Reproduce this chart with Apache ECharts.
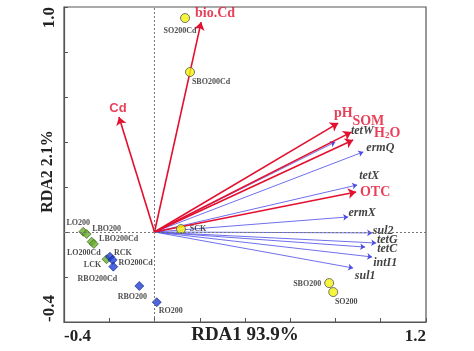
<!DOCTYPE html>
<html>
<head>
<meta charset="utf-8">
<script src="https://cdn.jsdelivr.net/npm/echarts@6/dist/echarts.min.js"></script>
<style>
  html, body { margin: 0; padding: 0; background: #fff; }
  #chart { width: 474px; height: 351px; }
</style>
</head>
<body>
<div id="chart"></div>
<script>
// axes
var xMin = -0.4, xMax = 1.2, yMin = -0.4, yMax = 1.0, tickStep = 0.2;

// environmental factors (red arrows)
var envNames = ['bio.Cd', 'Cd', 'pH', 'SOM', 'H2O', 'OTC'];
var envX = [0.206, -0.157, 0.812, 0.870, 0.878, 0.891];
var envY = [0.933, 0.511, 0.484, 0.444, 0.409, 0.178];

// genes (blue arrows)
var geneNames = ['tetW', 'ermQ', 'tetX', 'ermX', 'sul2', 'tetG', 'tetC', 'intI1', 'sul1'];
var geneX = [0.799, 0.923, 0.896, 0.856, 0.962, 0.980, 0.931, 0.962, 0.878];
var geneY = [0.400, 0.356, 0.209, 0.067, -0.004, -0.049, -0.067, -0.111, -0.160];

// samples
var sNames = ['SO200Cd', 'SBO200Cd', 'SCK', 'SBO200', 'SO200'];
var sX = [0.135, 0.157, 0.117, 0.772, 0.790];
var sY = [0.951, 0.711, 0.013, -0.227, -0.267];

var lNames = ['LO200', 'LBO200', 'LBO200Cd', 'LO200Cd', 'LCK'];
var lX = [-0.315, -0.300, -0.278, -0.268, -0.212];
var lY = [0.001, -0.009, -0.043, -0.053, -0.121];

var rNames = ['RCK', 'RO200Cd', 'RBO200Cd', 'RBO200', 'RO200'];
var rX = [-0.197, -0.185, -0.182, -0.067, 0.010];
var rY = [-0.110, -0.124, -0.154, -0.240, -0.312];

// label offsets in px (layout only)
var envOffset = [[14, -9], [-1, -9], [5, -10], [17, -11], [34, -7], [19, 0]];
var geneOffset = [[27, -11], [17, -4], [12, -9], [14, -4], [11, -2], [11, -3], [22, 2], [13, 6], [12, 8]];
var sOffset = [[-5, 13], [21, 10], [17, 0], [-22, 1], [13, 10]];
var lOffset = [[-5, -9], [20, -5], [27, -3], [-10, 9], [-14, 6]];
var rOffset = [[13, -4], [23, 3], [-16, 12], [-7, 11], [14, 9]];

var RED = '#e3102f';
var BLUE = '#4a4ae8';
var serif = 'Liberation Serif';

var chart = echarts.init(document.getElementById('chart'));

function arrows(xs, ys) {
    return xs.map(function (x, i) { return { coords: [[0, 0], [x, ys[i]]] }; });
}

function tipLabels(names, xs, ys, offs, style) {
    return names.map(function (n, i) {
        var lab = Object.assign({ show: true, position: 'inside', offset: offs[i], formatter: n }, style);
        if (n === 'H2O') {
            lab.formatter = '{a|H}{b|2}{a|O}';
            lab.rich = {
                a: { fontFamily: serif, fontWeight: 'bold', fontSize: 14, color: RED },
                b: { fontFamily: serif, fontWeight: 'bold', fontSize: 9, color: RED, verticalAlign: 'bottom', padding: [6, 0, 0, 0] }
            };
        }
        return { value: [xs[i], ys[i]], label: lab };
    });
}

function samples(names, xs, ys, offs) {
    return names.map(function (n, i) {
        return { name: n, value: [xs[i], ys[i]], label: { offset: offs[i] } };
    });
}

var sampleLabel = {
    show: true, position: 'inside', formatter: '{b}',
    fontFamily: serif, fontWeight: 'bold', fontSize: 8, color: '#222'
};

var option = {
    animation: false,
    grid: {
        left: 64, right: 48, top: 7, bottom: 29, containLabel: false, outerBoundsMode: 'none',
        show: true, borderColor: '#555', borderWidth: 1.2
    },
    xAxis: {
        type: 'value', min: xMin, max: xMax, interval: tickStep,
        name: 'RDA1 93.9%', nameLocation: 'middle', nameGap: 4, nameMoveOverlap: false,
        nameTextStyle: { fontFamily: serif, fontWeight: 'bold', fontSize: 19, color: '#222', verticalAlign: 'top' },
        axisLine: { onZero: false, lineStyle: { color: '#555', width: 1.2 } },
        axisTick: { inside: true, length: 4, lineStyle: { color: '#555' } },
        splitLine: { show: false },
        axisLabel: {
            fontFamily: serif, fontWeight: 'bold', fontSize: 17, color: '#222', margin: 6,
            alignMinLabel: 'left', alignMaxLabel: 'right',
            formatter: function (v) {
                if (Math.abs(v - xMin) < 1e-6 || Math.abs(v - xMax) < 1e-6) return v.toFixed(1);
                return '';
            }
        }
    },
    yAxis: {
        type: 'value', min: yMin, max: yMax, interval: tickStep,
        name: 'RDA2 2.1%', nameLocation: 'middle', nameGap: 8, nameRotate: 90, nameMoveOverlap: false,
        nameTextStyle: { fontFamily: serif, fontWeight: 'bold', fontSize: 16, color: '#222', verticalAlign: 'bottom', padding: [0, 14, 0, 0] },
        axisLine: { onZero: false, lineStyle: { color: '#555', width: 1.2 } },
        axisTick: { inside: true, length: 4, lineStyle: { color: '#555' } },
        splitLine: { show: false },
        axisLabel: {
            fontFamily: serif, fontWeight: 'bold', fontSize: 17, color: '#222', margin: 6, rotate: 90,
            alignMinLabel: 'left', alignMaxLabel: 'right',
            formatter: function (v) {
                if (Math.abs(v - yMin) < 1e-6 || Math.abs(v - yMax) < 1e-6) return v.toFixed(1);
                return '';
            }
        }
    },
    series: [
        {
            type: 'scatter', data: [], silent: true,
            markLine: {
                silent: true, symbol: 'none', label: { show: false },
                lineStyle: { color: '#777', type: [2, 2], width: 1 },
                data: [{ xAxis: 0 }, { yAxis: 0 }]
            }
        },
        {
            type: 'lines', coordinateSystem: 'cartesian2d', silent: true,
            symbol: ['none', 'arrow'], symbolSize: 5,
            lineStyle: { color: BLUE, width: 0.8, opacity: 1 },
            data: arrows(geneX, geneY)
        },
        {
            type: 'lines', coordinateSystem: 'cartesian2d', silent: true,
            symbol: ['none', 'arrow'], symbolSize: 8,
            lineStyle: { color: RED, width: 1.6, opacity: 1 },
            data: arrows(envX, envY)
        },
        {
            type: 'scatter', symbol: 'circle', symbolSize: 1, silent: true,
            itemStyle: { color: 'rgba(0,0,0,0)' },
            data: tipLabels(geneNames, geneX, geneY, geneOffset,
                { fontFamily: serif, fontWeight: 'bold', fontStyle: 'italic', fontSize: 12, color: '#111' })
        },
        {
            type: 'scatter', symbol: 'circle', symbolSize: 1, silent: true,
            itemStyle: { color: 'rgba(0,0,0,0)' },
            data: tipLabels(envNames, envX, envY, envOffset,
                { fontFamily: serif, fontWeight: 'bold', fontSize: 14, color: RED })
        },
        {
            type: 'scatter', symbol: 'diamond', symbolSize: 9,
            itemStyle: { color: '#6aae2e', borderColor: '#2f5a10', borderWidth: 0.8 },
            label: sampleLabel, data: samples(lNames, lX, lY, lOffset)
        },
        {
            type: 'scatter', symbol: 'diamond', symbolSize: 9,
            itemStyle: { color: '#1f3fd6', borderColor: '#10207a', borderWidth: 0.8 },
            label: sampleLabel, data: samples(rNames, rX, rY, rOffset)
        },
        {
            type: 'scatter', symbol: 'circle', symbolSize: 9,
            itemStyle: { color: '#f2f20c', borderColor: '#555', borderWidth: 1 },
            label: sampleLabel, data: samples(sNames, sX, sY, sOffset)
        }
    ]
};

// Cd label drawn in a sans face as in the original
option.series[4].data[1].label.fontFamily = 'Liberation Sans';
option.series[4].data[1].label.fontSize = 13;

chart.setOption(option);
</script>
</body>
</html>
